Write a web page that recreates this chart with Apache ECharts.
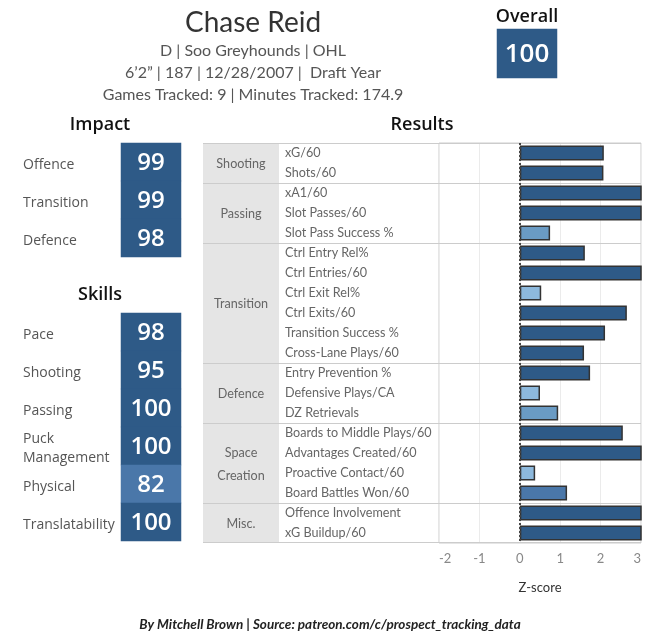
<!DOCTYPE html>
<html>
<head>
<meta charset="utf-8">
<script src="https://cdn.jsdelivr.net/npm/echarts@6/dist/echarts.min.js"></script>
<style>
html,body{margin:0;padding:0;background:#fff;}
#chart{width:657px;height:632px;}
</style>
</head>
<body>
<div id="chart"></div>
<script>
// ---- data ----
const playerName = 'Chase Reid';
const infoLines = ['D | Soo Greyhounds | OHL', '6’2” | 187 | 12/28/2007 |  Draft Year', 'Games Tracked: 9 | Minutes Tracked: 174.9'];
const overallScore = 100;
const impactLabels = ['Offence', 'Transition', 'Defence'];
const impactScores = [99, 99, 98];
const skillLabels = ['Pace', 'Shooting', 'Passing', 'Puck\nManagement', 'Physical', 'Translatability'];
const skillScores = [98, 95, 100, 100, 82, 100];
const groupNames = ['Shooting', 'Passing', 'Transition', 'Defence', 'Space\nCreation', 'Misc.'];
const groupCounts = [2, 3, 6, 3, 4, 2];
const metricLabels = ['xG/60', 'Shots/60', 'xA1/60', 'Slot Passes/60', 'Slot Pass Success %',
  'Ctrl Entry Rel%', 'Ctrl Entries/60', 'Ctrl Exit Rel%', 'Ctrl Exits/60', 'Transition Success %', 'Cross-Lane Plays/60',
  'Entry Prevention %', 'Defensive Plays/CA', 'DZ Retrievals',
  'Boards to Middle Plays/60', 'Advantages Created/60', 'Proactive Contact/60', 'Board Battles Won/60',
  'Offence Involvement', 'xG Buildup/60'];
const zScores = [2.08, 2.07, 3.4, 3.3, 0.75,
  1.61, 3.5, 0.53, 2.65, 2.11, 1.59,
  1.74, 0.50, 0.95,
  2.55, 3.3, 0.38, 1.17,
  3.6, 3.4];
const xTicks = [-2, -1, 0, 1, 2, 3];

// ---- styling helpers ----
const DARK = '#2e5a87', MED = '#4a77a9', LIGHT = '#6a9bc4', LIGHTEST = '#8db9dd';
function barColor(v) {
  if (v >= 1.5) return DARK;
  if (v >= 1.0) return MED;
  if (v >= 0.7) return LIGHT;
  return LIGHTEST;
}
const tableFont = 'Lato, "Noto Sans", sans-serif';
const sideFont = '"Open Sans", "Noto Sans", sans-serif';

// group ranges built from counts
const groupRanges = [];
let acc = 0;
groupNames.forEach((g, i) => { groupRanges.push([acc, acc + groupCounts[i], i]); acc += groupCounts[i]; });

const chart = echarts.init(document.getElementById('chart'), null, {renderer: 'canvas'});

const hmAxisX = (gi) => ({type: 'category', gridIndex: gi, data: [''], show: false});
const hmAxisY = (gi, labels) => ({
  type: 'category', gridIndex: gi, data: labels, inverse: true,
  axisLine: {show: false}, axisTick: {show: false}, splitLine: {show: false},
  axisLabel: {show: labels.length > 1 || labels[0] !== '', align: 'left', margin: 98,
    formatter: v => v.split('\n').map(s => '{s|' + s + '}').join('\n'),
    rich: {s: {color: '#555', fontSize: 14, fontFamily: sideFont, lineHeight: 19, padding: [6, 0, 0, 0]}}}
});
const hmLabel = (size) => ({show: true, color: '#fff', fontSize: size, fontWeight: 600, fontFamily: sideFont, offset: [0, 1], formatter: p => p.value[2]});

const option = {
  animation: false,
  backgroundColor: '#fff',
  grid: [
    {id: 'bars', left: 439, width: 202, top: 143, height: 400, show: true, borderColor: '#cccccc', borderWidth: 1, backgroundColor: 'transparent'},
    {id: 'table', left: 203, width: 438, top: 143, height: 400},
    {id: 'impact', left: 121, width: 60, top: 143, height: 114},
    {id: 'skills', left: 121, width: 60, top: 313, height: 228},
    {id: 'overall', left: 497, width: 60, top: 29, height: 49}
  ],
  xAxis: [
    {type: 'value', gridIndex: 0, min: -2, max: 3, interval: 1,
      axisLine: {show: false}, axisTick: {show: false},
      splitLine: {show: true, lineStyle: {color: '#ebebeb', width: 1}},
      axisLabel: {color: '#888', fontSize: 13, fontFamily: tableFont, margin: 9, alignMinLabel: 'left', alignMaxLabel: 'right',
        formatter: v => xTicks.includes(v) ? String(v) : ''},
      name: 'Z-score', nameLocation: 'middle', nameGap: 38,
      nameTextStyle: {color: '#333', fontSize: 13, fontFamily: tableFont}},
    {type: 'value', gridIndex: 1, min: 0, max: 1, show: false},
    hmAxisX(2), hmAxisX(3), hmAxisX(4)
  ],
  yAxis: [
    {type: 'category', gridIndex: 0, data: metricLabels, inverse: true,
      axisLine: {show: false}, axisTick: {show: false}, splitLine: {show: false},
      axisLabel: {align: 'left', margin: 154, color: '#666', fontSize: 12.6, fontFamily: tableFont}},
    {type: 'value', gridIndex: 1, min: 0, max: metricLabels.length, inverse: true, show: false},
    hmAxisY(2, impactLabels), hmAxisY(3, skillLabels), hmAxisY(4, [''])
  ],
  visualMap: {
    type: 'piecewise', show: false, dimension: 2, seriesIndex: [2, 3, 4],
    pieces: [{gte: 90, color: DARK}, {lt: 90, color: MED}]
  },
  series: [
    {
      type: 'custom', xAxisIndex: 1, yAxisIndex: 1, z: 1,
      data: groupRanges,
      renderItem: function (params, api) {
        const s = api.value(0), e = api.value(1), gi = api.value(2);
        const p0 = api.coord([0, s]), p1 = api.coord([1, e]);
        const colW = 76;
        const children = [
          {type: 'rect', shape: {x: p0[0], y: p0[1], width: colW, height: p1[1] - p0[1]}, style: {fill: '#e5e5e5'}},
          {type: 'line', shape: {x1: p0[0], y1: p0[1] + 0.5, x2: p1[0], y2: p0[1] + 0.5}, style: {stroke: '#cccccc', lineWidth: 1}},
          {type: 'text', style: {text: groupNames[gi], x: p0[0] + colW / 2, y: (p0[1] + p1[1]) / 2 + 1,
            textAlign: 'center', textVerticalAlign: 'middle', fill: '#666', font: '12.6px ' + tableFont, lineHeight: 23}}
        ];
        if (gi === groupNames.length - 1) {
          children.push({type: 'line', shape: {x1: p0[0], y1: p1[1] - 0.5, x2: p1[0], y2: p1[1] - 0.5}, style: {stroke: '#cccccc', lineWidth: 1}});
        }
        return {type: 'group', children: children};
      }
    },
    {
      type: 'bar', xAxisIndex: 0, yAxisIndex: 0, z: 3,
      data: zScores.map(v => ({value: v, itemStyle: {color: barColor(v)}})),
      barWidth: 15, clip: true,
      itemStyle: {borderColor: '#333', borderWidth: 1.5},
      markLine: {
        silent: true, symbol: 'none', label: {show: false},
        lineStyle: {color: '#444', type: [2, 2], width: 2},
        data: [{xAxis: 0}]
      }
    },
    {
      type: 'heatmap', xAxisIndex: 2, yAxisIndex: 2,
      data: impactScores.map((v, i) => [0, i, v]),
      label: hmLabel(24), itemStyle: {borderWidth: 0}
    },
    {
      type: 'heatmap', xAxisIndex: 3, yAxisIndex: 3,
      data: skillScores.map((v, i) => [0, i, v]),
      label: hmLabel(24), itemStyle: {borderWidth: 0}
    },
    {
      type: 'heatmap', xAxisIndex: 4, yAxisIndex: 4,
      data: [[0, 0, overallScore]],
      label: hmLabel(26), itemStyle: {borderWidth: 0}
    }
  ],
  graphic: [
    {type: 'text', x: 253, y: 23, style: {text: playerName, textAlign: 'center', textVerticalAlign: 'middle', fill: '#333', font: '28px ' + tableFont}},
    {type: 'text', x: 253, y: 51, style: {text: infoLines[0], textAlign: 'center', textVerticalAlign: 'middle', fill: '#555', font: '16px ' + tableFont}},
    {type: 'text', x: 253, y: 73, style: {text: infoLines[1], textAlign: 'center', textVerticalAlign: 'middle', fill: '#555', font: '16px ' + tableFont}},
    {type: 'text', x: 253, y: 95, style: {text: infoLines[2], textAlign: 'center', textVerticalAlign: 'middle', fill: '#555', font: '16px ' + tableFont}},
    {type: 'text', x: 527, y: 17, style: {text: 'Overall', textAlign: 'center', textVerticalAlign: 'middle', fill: '#111', font: '600 18px ' + sideFont}},
    {type: 'text', x: 100, y: 125, style: {text: 'Impact', textAlign: 'center', textVerticalAlign: 'middle', fill: '#111', font: '600 18px ' + sideFont}},
    {type: 'text', x: 100, y: 295, style: {text: 'Skills', textAlign: 'center', textVerticalAlign: 'middle', fill: '#111', font: '600 18px ' + sideFont}},
    {type: 'text', x: 422, y: 125, style: {text: 'Results', textAlign: 'center', textVerticalAlign: 'middle', fill: '#111', font: '600 18px ' + sideFont}},
    {type: 'text', x: 330, y: 625, style: {text: 'By Mitchell Brown | Source: patreon.com/c/prospect_tracking_data', textAlign: 'center', textVerticalAlign: 'middle', fill: '#222', font: 'italic bold 13.5px ' + tableFont}}
  ]
};
chart.setOption(option);
</script>
</body>
</html>
